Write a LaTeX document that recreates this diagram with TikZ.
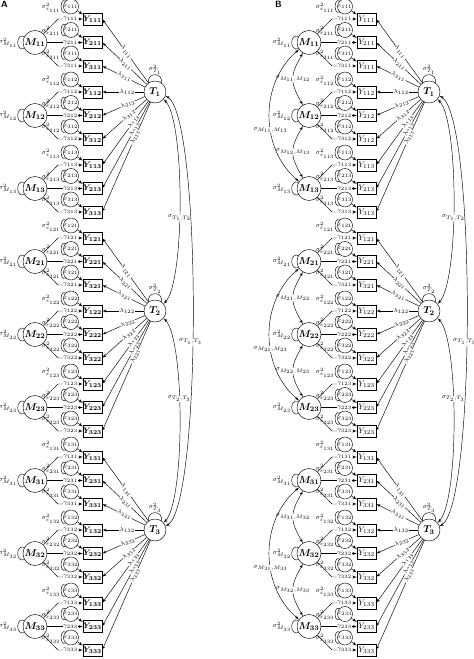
\documentclass[tikz,border=0pt]{standalone}
\usepackage{amsmath}
\usepackage{amssymb}
\usepackage{tikz}
\usetikzlibrary{positioning}
\usetikzlibrary{arrows}

\tikzset{
  obsbox/.style={draw, rectangle, minimum width=19pt, minimum height=12pt, inner sep=0pt, font=\fontsize{8}{8}\selectfont},
  methnode/.style={draw, circle, minimum size=24pt, inner sep=0pt, font=\fontsize{10}{10}\selectfont},
  traitnode/.style={draw, circle, minimum size=22pt, inner sep=0pt, font=\fontsize{10}{10}\selectfont},
  errnode/.style={draw, circle, minimum size=15pt, inner sep=0pt, font=\fontsize{6}{6}\selectfont},
  coef/.style={fill=white, inner sep=0.3pt, font=\fontsize{6}{6}\selectfont},
  varlab/.style={inner sep=0.3pt, font=\fontsize{6}{6}\selectfont},
}

\begin{document}
\begin{tikzpicture}[x=1pt, y=1pt, >=latex', line width=0.45pt]
\useasboundingbox (0,0) rectangle (474,-659);
\foreach \px/\pl/\yf in {0/A/1, 274/B/0}{
  \node[anchor=north west, inner sep=0pt, font=\sffamily\bfseries\fontsize{9}{9}\selectfont] (panel\pl) at (\px+1,-1) {\pl};
  \foreach \j in {1,2,3}{
    % trait factor
    \pgfmathsetmacro{\ty}{-(19+73*(3*\j-2))}
    \node[traitnode] (T\pl\j) at (\px+155,\ty) {$\boldsymbol{T_{\j}}$};
    \draw (T\pl\j.125) to[out=100,in=80,looseness=2.2] node[varlab, above] {$\sigma^2_{T_{\j}}$} (T\pl\j.55);
    \foreach \k in {1,2,3}{
      % method factor
      \pgfmathsetmacro{\my}{-(19+73*(3*\j+\k-4)+23.5)}
      \pgfmathsetmacro{\lp}{0.56-0.08*\k}
      \node[methnode] (M\pl\j\k) at (\px+35,\my) {$\boldsymbol{M_{\j\k}}$};
      \draw (M\pl\j\k.150) to[out=160,in=200,looseness=2] node[varlab, left] {$\sigma^2_{M_{\j\k}}$} (M\pl\j\k.210);
      \foreach \i in {1,2,3}{
        \pgfmathsetmacro{\yy}{-(19+73*(3*\j+\k-4)+23.5*(\i-1))}
        \node[obsbox] (Y\pl\i\j\k) at (\px+92.5,\yy) {\ifnum\yf=1 $\boldsymbol{Y_{\i\j\k}}$\else $Y_{\i\j\k}$\fi};
        \node[errnode] (e\pl\i\j\k) at ([xshift=-21.5pt, yshift=12.5pt]Y\pl\i\j\k.center) {$\varepsilon_{\i\j\k}$};
        \draw (e\pl\i\j\k.135) to[out=150,in=210,looseness=1.6] node[varlab, left, yshift=-1pt] {$\sigma^2_{\varepsilon_{\i\j\k}}$} (e\pl\i\j\k.225);
        \draw[->] (e\pl\i\j\k) -- (Y\pl\i\j\k.155);
        \draw[->] (M\pl\j\k) -- (\px+58,\yy) -- node[coef] {$\gamma_{\i\j\k}$} (Y\pl\i\j\k.west);
        \draw[->] (T\pl\j) -- node[coef, sloped, pos=\lp] {$\lambda_{\i\j\k}$} (Y\pl\i\j\k.east);
      }
    }
  }
  % trait correlations
  \draw[<->] (T\pl1.-40) to[out=-45,in=45,looseness=0.38] node[coef, pos=0.56] {$\sigma_{T_1,T_2}$} (T\pl2.40);
  \draw[<->] (T\pl2.-40) to[out=-45,in=45,looseness=0.38] node[coef, pos=0.42] {$\sigma_{T_2,T_3}$} (T\pl3.40);
  \draw[<->] (T\pl1.-20) to[out=-30,in=30,looseness=0.25] node[coef, pos=0.55, xshift=-2pt] {$\sigma_{T_1,T_3}$} (T\pl3.20);
}
% method correlations (panel B)
\foreach \j in {1,2,3}{
  \draw[<->] (MB\j1.240) to[out=-120,in=120,looseness=1.3] node[coef] {$\sigma_{M_{\j1},M_{\j2}}$} (MB\j2.120);
  \draw[<->] (MB\j2.240) to[out=-120,in=120,looseness=1.3] node[coef] {$\sigma_{M_{\j2},M_{\j3}}$} (MB\j3.120);
  \draw[<->] (MB\j1.215) to[out=-140,in=140,looseness=1] node[coef, pos=0.6] {$\sigma_{M_{\j1},M_{\j3}}$} (MB\j3.145);
}
\end{tikzpicture}
\end{document}
